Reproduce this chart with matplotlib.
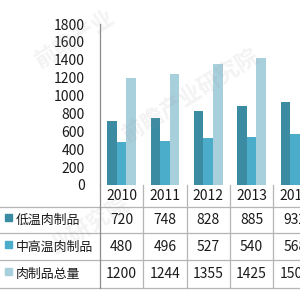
import matplotlib
matplotlib.use("Agg")
import matplotlib.pyplot as plt
import matplotlib.transforms as mtransforms
from matplotlib.patches import Rectangle

plt.rcParams['font.family'] = ['Noto Sans CJK SC', 'DejaVu Sans']

years = ["2010", "2011", "2012", "2013", "2014"]
series_names = ["低温肉制品", "中高温肉制品", "肉制品总量"]
low_temp = [720, 748, 828, 885, 932]
mid_high_temp = [480, 496, 527, 540, 568]
total = [1200, 1244, 1355, 1425, 1500]
yticks = [0, 200, 400, 600, 800, 1000, 1200, 1400, 1600, 1800]
colors = ["#3B8BA2", "#4BADC9", "#A7CFDC"]

W = H = 300
fig = plt.figure(figsize=(3, 3), dpi=100)
fig.patch.set_facecolor("white")

def fx(px):
    return px / W

def fy(py):
    return 1 - py / H

cat_w = 43.3
ax_left, ax_bottom, ax_top = 100, 185, 24
ax = fig.add_axes([fx(ax_left), fy(ax_bottom), cat_w * len(years) / W, (ax_bottom - ax_top) / H])
ax.set_xlim(0, len(years))
ax.set_ylim(0, 1800)

bw = 0.22
data = [low_temp, mid_high_temp, total]
for k, (vals, c) in enumerate(zip(data, colors)):
    xs = [i + 0.5 + (k - 1) * bw for i in range(len(years))]
    ax.bar(xs, vals, width=bw, color=c, zorder=2)

fs = 10
ax.set_yticks(yticks)
ax.set_yticklabels([str(v) for v in yticks], fontsize=fs, color="#1a1a1a")
ax.tick_params(axis='y', length=0, pad=11)
ax.set_xticks([])
for s in ["top", "right", "bottom"]:
    ax.spines[s].set_visible(False)
ax.spines["left"].set_color("#8C8C8C")
ax.spines["left"].set_linewidth(0.9)

line_c = "#B5B5B5"
row_lines = [207, 233, 260, 288]
blend = mtransforms.blended_transform_factory(ax.transData, fig.transFigure)
for py in row_lines:
    fig.add_artist(plt.Line2D([0, 1], [fy(py), fy(py)], transform=fig.transFigure,
                              color=line_c, lw=0.9))
for i in range(len(years) + 1):
    fig.add_artist(plt.Line2D([i, i], [fy(ax_bottom), fy(288)], transform=blend,
                              color="#8C8C8C" if i == 0 else line_c, lw=0.9))

header_y = 196
row_y = [220, 247, 274]
for i, y in enumerate(years):
    fig.text(i + 0.5, fy(header_y), y, transform=blend, ha="center", va="center",
             fontsize=fs, color="#1a1a1a")
for r, (name, vals, c) in enumerate(zip(series_names, data, colors)):
    fig.add_artist(Rectangle((fx(5), fy(row_y[r] + 1)), fx(7), 7 / H,
                             transform=fig.transFigure, color=c))
    fig.text(fx(16), fy(row_y[r]), name, ha="left", va="center",
             fontsize=9.3, color="#1a1a1a")
    for i, v in enumerate(vals):
        fig.text(i + 0.5, fy(row_y[r]), str(v), transform=blend, ha="center",
                 va="center", fontsize=fs, color="#1a1a1a")

wm = dict(color="#9a9a9a", alpha=0.12, fontsize=16, fontweight="bold",
          rotation=32, ha="center", va="center")
fig.text(fx(75), fy(40), "前瞻产业", **wm)
fig.text(fx(190), fy(95), "前瞻产业研究院", **wm)
fig.text(fx(90), fy(225), "业研究院", **wm)

fig.savefig("out.png", dpi=100, facecolor="white")
